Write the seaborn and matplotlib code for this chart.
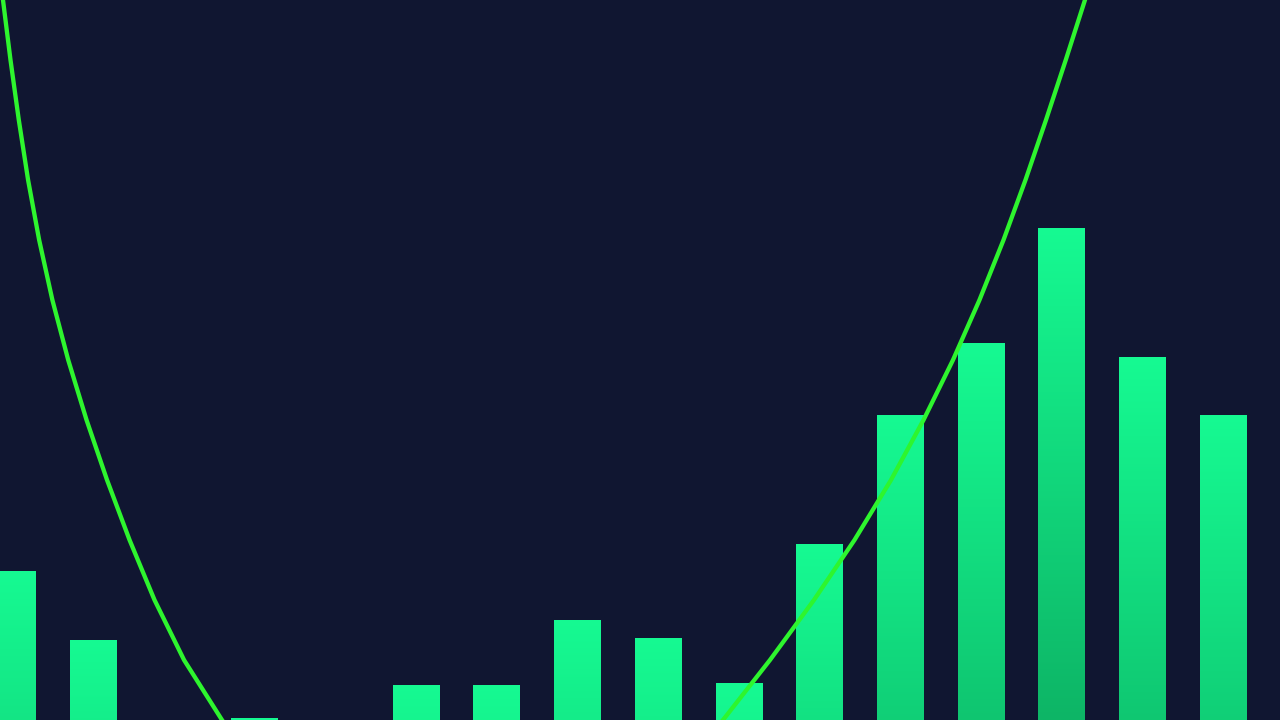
import numpy as np
import pandas as pd
import matplotlib.pyplot as plt
import seaborn as sns
from matplotlib.colors import to_rgb

# Bar data (16 slots, some empty)
slots = list(range(16))
bar_values = [20.7, 11.1, 0.0, 0.3, 0.0, 4.9, 4.9, 13.9,
              11.4, 5.1, 24.4, 42.4, 52.4, 68.4, 50.4, 42.4]

# Trend curve, two visible branches (it dips below the frame in between)
left_x = [-0.142, -0.112, -0.019, 0.084, 0.199, 0.336, 0.500, 0.696,
          0.923, 1.177, 1.456, 1.765, 2.131, 2.601, 2.775]
left_y = [102.78, 100.0, 91.67, 83.33, 75.0, 66.67, 58.33, 50.0,
          41.67, 33.33, 25.0, 16.67, 8.33, 0.0, -2.78]
right_x = [8.609, 8.807, 9.389, 9.934, 10.436, 10.888, 11.291, 11.656,
           11.984, 12.282, 12.554, 12.808, 13.053, 13.291, 13.366]
right_y = [-2.78, 0.0, 8.33, 16.67, 25.0, 33.33, 41.67, 50.0,
           58.33, 66.67, 75.0, 83.33, 91.67, 100.0, 102.78]

bg = "#101631"
top_color = "#16fa92"
bottom_color = "#0db566"
line_color = "#2ef52e"

sns.set_style("dark")
fig = plt.figure(figsize=(12.8, 7.2), dpi=100)
fig.patch.set_facecolor(bg)
ax = fig.add_axes([0, 0, 1, 1])
ax.set_facecolor(bg)

df = pd.DataFrame({"slot": slots, "value": bar_values})
sns.barplot(data=df, x="slot", y="value", width=0.57, color=top_color,
            saturation=1, ax=ax)

# vertical gradient inside each bar, darkening with depth below the bar top
hmax = max(bar_values)
c_top = np.array(to_rgb(top_color))
c_bot = np.array(to_rgb(bottom_color))
for patch in ax.patches:
    h = patch.get_height()
    patch.set_facecolor("none")
    patch.set_edgecolor("none")
    if h <= 0:
        patch.set_visible(False)
        continue
    x0 = patch.get_x()
    w = patch.get_width()
    ys = np.linspace(h, 0, 200)
    t = ((h - ys) / hmax)[:, None]
    grad = c_top + (c_bot - c_top) * t
    img = ax.imshow(grad[:, None, :], extent=[x0, x0 + w, 0, h],
                    aspect="auto", origin="upper", zorder=2)
    img.set_clip_path(patch)

sns.lineplot(x=left_x, y=left_y, sort=False, color=line_color,
             linewidth=3.1, ax=ax, zorder=3)
sns.lineplot(x=right_x, y=right_y, sort=False, color=line_color,
             linewidth=3.1, ax=ax, zorder=3)

ax.set_xlim(-0.149, 15.707)
ax.set_ylim(0, 100)
ax.set_axis_off()

fig.savefig("out.png", dpi=100, facecolor=bg)
